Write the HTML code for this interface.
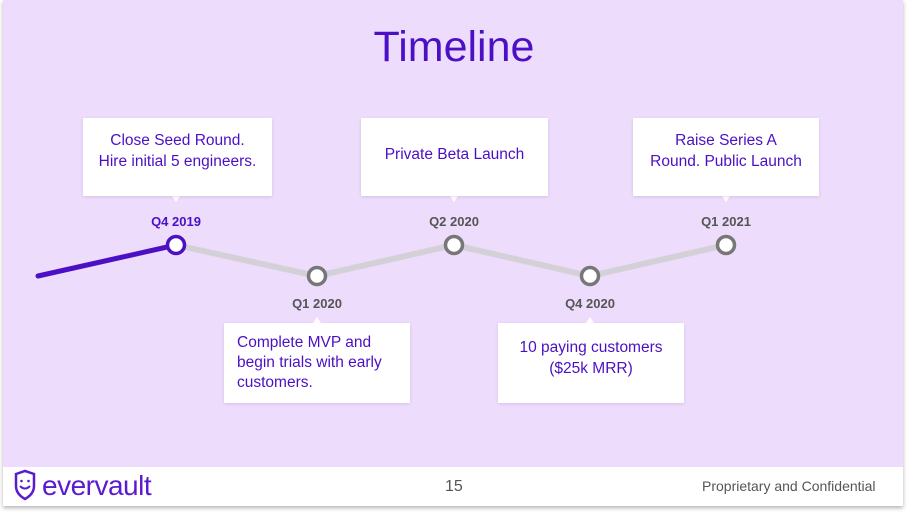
<!DOCTYPE html>
<html><head><style>
body{margin:0;width:908px;height:515px;background:#fff;position:relative;overflow:hidden;font-family:"Liberation Sans",sans-serif}
.slide{position:absolute;left:3px;top:0;width:900px;height:506px;background:#eedcfd;box-shadow:0 2px 4px rgba(0,0,0,.3)}
.foot{position:absolute;left:3px;top:467px;width:900px;height:39px;background:#fff}
.box{position:absolute;background:#fff;color:#4b10c4;font-size:15.5px;line-height:21px;box-shadow:0 1px 3px rgba(0,0,0,.12)}
.box.c{text-align:center}
.lbl{position:absolute;font-size:13px;font-weight:bold;color:#555;width:80px;text-align:center}
</style></head><body>
<div class="slide"></div>
<div style="position:absolute;left:0;width:908px;top:23px;text-align:center;font-size:43px;color:#4b10c4">Timeline</div>
<svg style="position:absolute;left:0;top:0" width="908" height="515">
<g fill="#fff">
<polygon points="172,196 180,196 176,202"/><polygon points="450,196 458,196 454,202"/><polygon points="722,196 730,196 726,202"/>
<polygon points="313,323 321,323 317,317"/><polygon points="586,323 594,323 590,317"/>
</g>
<polyline points="176,245 317,276 454,245 590,276 726,245" fill="none" stroke="#d4d0d8" stroke-width="6"/>
<line x1="38" y1="276" x2="176" y2="245" stroke="#4b10c4" stroke-width="5" stroke-linecap="round"/>
<circle cx="176" cy="245" r="8.5" fill="#fff" stroke="#4b10c4" stroke-width="3.5"/>
<g fill="#fff" stroke="#777" stroke-width="3.5">
<circle cx="317" cy="276" r="8.5"/><circle cx="454" cy="245" r="8.5"/><circle cx="590" cy="276" r="8.5"/><circle cx="726" cy="245" r="8.5"/>
</g>
</svg>
<div class="box c" style="left:83px;top:118px;width:189px;height:78px;padding-top:12px;box-sizing:border-box">Close Seed Round.<br>Hire initial 5 engineers.</div>
<div class="box c" style="left:361px;top:118px;width:187px;height:78px;padding-top:26px;box-sizing:border-box">Private Beta Launch</div>
<div class="box c" style="left:633px;top:118px;width:186px;height:78px;padding-top:12px;box-sizing:border-box">Raise Series A<br>Round. Public Launch</div>
<div class="box" style="left:224px;top:323px;width:186px;height:80px;padding:10px 0 0 13px;box-sizing:border-box;line-height:20px">Complete MVP and begin trials with early customers.</div>
<div class="box c" style="left:498px;top:323px;width:186px;height:80px;padding-top:14px;box-sizing:border-box">10 paying customers<br>($25k MRR)</div>
<div class="lbl" style="left:136px;top:214px;color:#4b10c4">Q4 2019</div>
<div class="lbl" style="left:277px;top:296px">Q1 2020</div>
<div class="lbl" style="left:414px;top:214px">Q2 2020</div>
<div class="lbl" style="left:550px;top:296px">Q4 2020</div>
<div class="lbl" style="left:686px;top:214px">Q1 2021</div>
<div class="foot"></div>
<svg style="position:absolute;left:0;top:0" width="60" height="515">
<path d="M16 474 L25 471 L34 474 L34 486 Q34 494 25 499 Q16 494 16 486 Z" fill="none" stroke="#5a1ad0" stroke-width="2.5"/>
<circle cx="21.5" cy="481" r="1.3" fill="#5a1ad0"/><circle cx="28.5" cy="481" r="1.3" fill="#5a1ad0"/>
<path d="M20 486 Q25 491 30 486" fill="none" stroke="#5a1ad0" stroke-width="2"/>
</svg>
<div style="position:absolute;left:42px;top:470px;font-size:28px;color:#5a1ad0;letter-spacing:-0.5px">evervault</div>
<div style="position:absolute;left:445px;top:478px;font-size:16px;color:#555">15</div>
<div style="position:absolute;left:702px;top:478px;font-size:14px;color:#555">Proprietary and Confidential</div>
</body></html>
